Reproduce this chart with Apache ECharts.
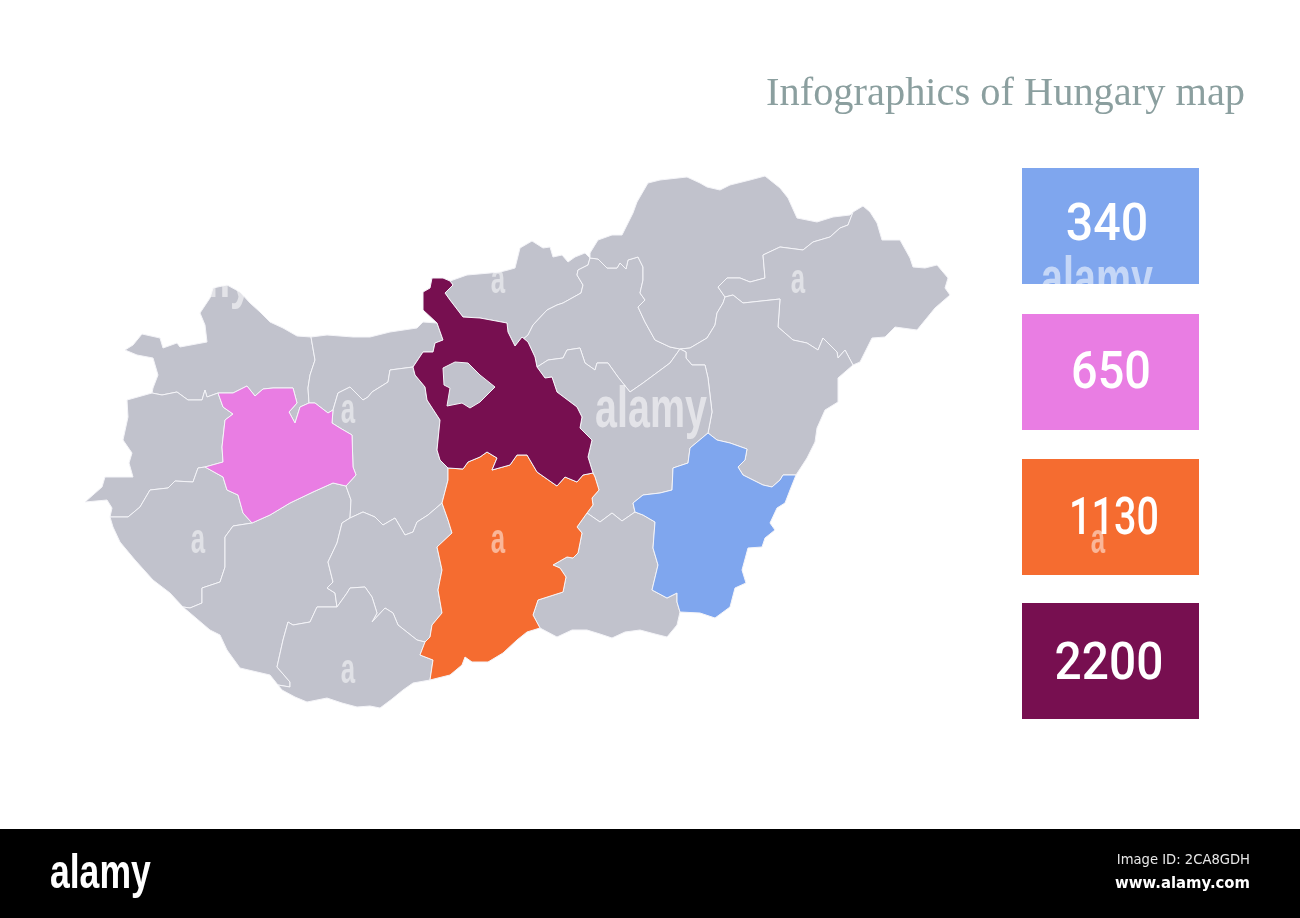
<!DOCTYPE html>
<html lang="en">
<head>
<meta charset="UTF-8">
<title>Infographics of Hungary map</title>
<script src="https://cdn.jsdelivr.net/npm/echarts@6/dist/echarts.min.js"></script>
<style>
    html, body { margin: 0; padding: 0; background: #fff; }
    #chartmain { width: 1300px; height: 918px; }
</style>
</head>
<body>
<div id="chartmain"></div>
<script>
// values and colours
var titleText = 'Infographics of Hungary map';
var highlighted = ['Bekes', 'Veszprem', 'Bacs-Kiskun', 'Pest'];
var values = [340, 650, 1130, 2200];
var colors = ['#7fa6ee', '#e97de3', '#f56c30', '#770f50'];

// county borders, each one shared by two counties
var gmsNorth = [[311,337],[297,336],[283,328],[270,322],[260,312],[250,303],[240,292],[227,285],[213,288],[210,298],[200,313],[205,325],[207,342],[180,347],[177,343],[163,348],[160,338],[142,334],[133,345],[125,350],[137,355],[153,358],[158,375],[153,388],[152,393]];
var gmsVas = [[152,393],[162,395],[177,392],[188,400],[202,400],[205,390],[207,397],[218,393]];
var gmsVes = [[218,393],[233,393],[247,386],[255,396],[263,389],[273,388],[293,388],[297,403],[289,412],[295,423],[300,407],[309,403]];
var gmsKe = [[311,337],[315,360],[310,375],[308,388],[309,403]];
var keNorth = [[311,337],[327,335],[353,337],[370,337],[390,332],[417,328],[423,322],[437,323]];
var pestKe = [[437,323],[443,340],[435,343],[433,352],[423,352],[413,367]];
var keFejer = [[413,367],[390,370],[388,382],[372,392],[368,397],[363,400],[350,387],[338,393],[333,410]];
var keVes = [[333,410],[328,413],[315,403],[309,403]];
var vesFejer = [[333,410],[332,423],[340,428],[352,435],[353,467],[356,475],[346,486]];
var vesSomogy = [[346,486],[333,483],[313,492],[290,503],[270,515],[252,523]];
var vesZala = [[252,523],[243,513],[238,495],[227,490],[223,477],[205,467]];
var vesVas = [[205,467],[223,462],[222,447],[225,420],[233,414],[223,407],[218,393]];
var vasWest = [[152,393],[127,400],[128,417],[123,440],[132,453],[129,463],[133,477],[105,477],[102,487],[85,502],[107,500],[112,508],[110,517]];
var vasZala = [[110,517],[128,517],[140,507],[150,490],[168,488],[175,481],[193,482],[198,468],[205,467]];
var zalaSouth = [[110,517],[113,527],[120,542],[135,560],[153,580],[170,593],[183,607]];
var zalaSomogy = [[183,607],[190,608],[202,603],[202,588],[220,582],[225,567],[225,537],[233,526],[252,523]];
var somogySouth = [[183,607],[210,630],[220,635],[227,650],[240,668],[270,675],[278,685]];
var somogyBaranya = [[278,685],[290,687],[290,682],[277,667],[283,640],[288,622],[293,625],[310,622],[317,607],[337,607]];
var somogyTolna = [[337,607],[335,593],[327,588],[333,582],[328,562],[337,543],[342,523],[350,518]];
var somogyFejer = [[350,518],[351,500],[346,486]];
var fejerTolna = [[350,518],[363,512],[375,517],[383,525],[395,518],[405,535],[413,532],[417,522],[428,515],[442,503]];
var fejerPest = [[413,367],[415,375],[425,387],[427,400],[440,420],[437,450],[440,460],[448,468]];
var fejerBacs = [[448,468],[448,480],[442,503]];
var tolnaBacs = [[442,503],[448,520],[452,533],[437,547],[442,570],[438,590],[442,613],[432,625],[430,637],[425,642]];
var tolnaBaranya = [[337,607],[347,593],[350,588],[365,587],[372,597],[377,613],[372,622],[385,608],[393,613],[398,625],[417,640],[425,642]];
var baranyaSouth = [[278,685],[282,690],[295,697],[307,702],[327,698],[342,703],[357,707],[370,706],[380,708],[392,699],[403,690],[413,683],[430,680]];
var baranyaBacs = [[430,680],[433,660],[420,655],[425,642]];
var bacsSouth = [[430,680],[450,675],[462,665],[465,657],[472,662],[488,662],[503,653],[517,640],[527,632],[540,628]];
var bacsCsongrad = [[540,628],[533,615],[538,600],[563,592],[566,577],[560,568],[553,565],[567,557],[573,558],[578,553],[582,533],[577,527],[587,513]];
var bacsJnsz = [[587,513],[593,505],[592,498],[599,490],[595,477],[593,473]];
var pestBacs = [[448,468],[463,469],[468,462],[480,457],[487,452],[497,458],[492,470],[510,465],[517,455],[527,455],[537,472],[557,486],[565,477],[577,482],[583,475],[593,473]];
var pestJnsz = [[593,473],[588,457],[592,440],[580,428],[582,417],[577,407],[557,392],[552,377],[545,378],[537,367]];
var pestHeves = [[537,367],[535,357],[528,342],[522,337],[515,346]];
var pestNograd = [[450,281],[453,285],[445,293],[450,300],[463,317],[480,318],[507,323],[508,332],[515,346]];
var pestNorth = [[437,323],[423,310],[423,292],[430,288],[432,278],[443,278],[450,281]];
var nogradNorth = [[450,281],[467,275],[490,273],[500,272],[508,270],[515,268],[520,248],[532,241],[543,248],[550,247],[553,257],[562,255],[568,262],[575,257],[585,253],[590,258]];
var nogradHeves = [[515,346],[528,335],[533,325],[547,310],[557,305],[563,303],[581,293],[583,285],[577,275],[578,270],[588,265],[590,258]];
var hevesBorsod = [[590,258],[598,259],[607,268],[617,268],[620,263],[626,269],[628,260],[638,257],[643,267],[643,280],[640,293],[645,300],[638,307],[645,322],[655,340],[670,347],[680,349]];
var hevesJnsz = [[537,367],[548,360],[563,358],[567,350],[580,348],[585,363],[595,370],[597,363],[608,363],[618,377],[630,392],[643,383],[670,363],[680,349]];
var borsodNorth = [[590,258],[590,253],[598,240],[612,235],[622,235],[633,213],[637,202],[648,183],[660,180],[687,177],[700,183],[707,187],[720,190],[730,185],[750,180],[765,176],[780,188],[788,198],[797,218],[817,222],[833,217],[850,215],[853,212]];
var borsodSzab = [[725,297],[718,287],[727,278],[740,278],[750,282],[765,278],[763,255],[780,247],[803,250],[813,242],[830,237],[840,228],[848,225],[853,212]];
var borsodHajdu = [[680,349],[690,348],[707,338],[715,325],[717,313],[723,303],[725,297]];
var szabOuter = [[853,212],[863,206],[870,212],[877,223],[882,240],[900,240],[910,258],[913,267],[925,268],[937,265],[948,278],[945,288],[950,295],[935,308],[917,330],[895,327],[885,337],[872,338],[860,362],[853,365]];
var szabHajdu = [[725,297],[733,295],[743,303],[780,299],[778,327],[793,340],[807,343],[818,350],[823,338],[837,352],[838,358],[845,350],[853,365]];
var hajduOuter = [[853,365],[838,378],[838,402],[825,410],[817,428],[815,442],[807,458],[796,475]];
var hajduBekes = [[708,433],[717,440],[730,443],[747,449],[745,460],[738,467],[743,475],[763,485],[772,487],[780,480],[783,475],[796,475]];
var jnszHajdu = [[680,349],[686,352],[686,358],[692,365],[705,365],[708,378],[712,412],[708,433]];
var bekesOuter = [[796,475],[790,490],[785,503],[777,508],[770,523],[775,530],[765,538],[762,547],[748,548],[742,570],[746,583],[735,588],[730,607],[715,618],[700,613],[680,612]];
var bekesCsongrad = [[680,612],[677,602],[677,593],[667,598],[652,590],[658,565],[653,548],[655,522],[643,515],[635,512]];
var bekesJnsz = [[708,433],[690,448],[688,463],[673,468],[672,490],[660,493],[643,495],[633,503],[635,512]];
var jnszCsongrad = [[587,513],[600,522],[612,513],[622,521],[635,512]];
var csongradSouth = [[540,628],[557,637],[572,630],[587,630],[600,634],[612,638],[625,632],[640,630],[655,634],[667,637],[677,625],[680,612]];
var budapest = [[443,368],[455,362],[468,363],[480,375],[495,387],[480,402],[470,408],[462,403],[447,406],[450,388],[444,385],[443,368]];

function rev(a) { return a.slice().reverse(); }
function ring() {
    var pts = [];
    for (var i = 0; i < arguments.length; i++) pts = pts.concat(arguments[i]);
    return pts;
}
function county(name, pts) {
    return { type: 'Feature', properties: { name: name }, geometry: { type: 'Polygon', coordinates: [pts] } };
}

var hungary = {
    type: 'FeatureCollection',
    features: [
        county('Gyor-Moson-Sopron', ring(gmsNorth, gmsVas, gmsVes, rev(gmsKe))),
        county('Komarom-Esztergom', ring(keNorth, pestKe, keFejer, keVes, rev(gmsKe))),
        county('Vas', ring(vasWest, vasZala, vesVas, rev(gmsVas))),
        county('Zala', ring(zalaSouth, zalaSomogy, vesZala, rev(vasZala))),
        county('Somogy', ring(somogySouth, somogyBaranya, somogyTolna, somogyFejer, vesSomogy, rev(zalaSomogy))),
        county('Fejer', ring(rev(keFejer), fejerPest, fejerBacs, rev(fejerTolna), somogyFejer, rev(vesFejer))),
        county('Tolna', ring(fejerTolna, tolnaBacs, rev(tolnaBaranya), somogyTolna)),
        county('Baranya', ring(baranyaSouth, baranyaBacs, rev(tolnaBaranya), rev(somogyBaranya))),
        county('Nograd', ring(nogradNorth, rev(nogradHeves), rev(pestNograd))),
        county('Heves', ring(pestHeves, nogradHeves, hevesBorsod, rev(hevesJnsz))),
        county('Borsod-Abauj-Zemplen', ring(borsodNorth, rev(borsodSzab), rev(borsodHajdu), rev(hevesBorsod))),
        county('Szabolcs-Szatmar-Bereg', ring(borsodSzab, szabOuter, rev(szabHajdu))),
        county('Hajdu-Bihar', ring(borsodHajdu, szabHajdu, hajduOuter, rev(hajduBekes), rev(jnszHajdu))),
        county('Jasz-Nagykun-Szolnok', ring(hevesJnsz, jnszHajdu, bekesJnsz, rev(jnszCsongrad), bacsJnsz, pestJnsz)),
        county('Csongrad', ring(csongradSouth, bekesCsongrad, rev(jnszCsongrad), rev(bacsCsongrad))),
        county('Veszprem', ring(rev(keVes), vesFejer, vesSomogy, vesZala, vesVas, gmsVes)),
        county('Bekes', ring(hajduBekes, bekesOuter, bekesCsongrad, rev(bekesJnsz))),
        county('Bacs-Kiskun', ring(bacsSouth, bacsCsongrad, bacsJnsz, rev(pestBacs), fejerBacs, tolnaBacs, rev(baranyaBacs))),
        county('Pest', ring(pestNorth, pestNograd, rev(pestHeves), rev(pestJnsz), rev(pestBacs), rev(fejerPest), rev(pestKe))),
        county('Budapest', budapest)
    ]
};
echarts.registerMap('hungary', hungary);

// layout of the value boxes
var boxTops = [168, 314, 459, 603];
var boxLabelX = [1107, 1111, 1114, 1109];
var boxLabelY = [227, 375, 521, 666];
var boxLabelScale = [0.93, 0.9, 0.76, 0.92];

// watermark positions
var bigMarks = [[651, 440], [1097, 310], [196, 310]];
var smallMarks = [[198, 563], [348, 433], [348, 693], [498, 563], [498, 303], [798, 303], [1098, 563]];

var graphics = [
    { type: 'rect', z: 1, shape: { x: 0, y: 829, width: 1300, height: 89 }, style: { fill: '#000' } },
    { type: 'text', z: 10, x: 1245, y: 94, style: { text: titleText, fill: '#8b9f9f', font: '40.4px "Liberation Serif"', textAlign: 'right', textVerticalAlign: 'middle' } },
    { type: 'text', z: 10, x: 50, y: 899, scaleX: 0.74, style: { text: 'alamy', fill: '#fff', font: 'bold 48px "Liberation Sans"', textAlign: 'left', textVerticalAlign: 'bottom' } },
    { type: 'text', z: 10, x: 1250, y: 860, scaleX: 0.94, style: { text: 'Image ID: 2CA8GDH', fill: '#e8e8e8', font: '14px "DejaVu Sans"', textAlign: 'right', textVerticalAlign: 'middle' } },
    { type: 'text', z: 10, x: 1250, y: 884, scaleX: 0.99, style: { text: 'www.alamy.com', fill: '#fff', font: 'bold 15px "DejaVu Sans"', textAlign: 'right', textVerticalAlign: 'middle' } }
];
values.forEach(function (v, i) {
    graphics.push({ type: 'rect', z: 10, shape: { x: 1022, y: boxTops[i], width: 177, height: 116 }, style: { fill: colors[i] } });
    graphics.push({ type: 'text', z: 11, x: boxLabelX[i], y: boxLabelY[i], scaleX: boxLabelScale[i], style: { text: String(v), fill: '#fff', font: '500 52px Roboto', textAlign: 'center', textVerticalAlign: 'middle' } });
});
bigMarks.forEach(function (p) {
    graphics.push({ type: 'text', z: 12, x: p[0], y: p[1], scaleX: 0.68, silent: true, style: { text: 'alamy', fill: 'rgba(255,255,255,0.55)', font: 'bold 58px "Liberation Sans"', textAlign: 'center', textVerticalAlign: 'bottom' } });
});
smallMarks.forEach(function (p) {
    graphics.push({ type: 'text', z: 12, x: p[0], y: p[1], scaleX: 0.6, silent: true, style: { text: 'a', fill: 'rgba(255,255,255,0.5)', font: 'bold 43px "Liberation Sans"', textAlign: 'center', textVerticalAlign: 'bottom' } });
});

var option = {
    animation: false,
    backgroundColor: '#fff',
    graphic: graphics,
    series: [{
        type: 'map',
        map: 'hungary',
        silent: true,
        roam: false,
        // coordinates are already picture pixels
        projection: {
            project: function (p) { return p; },
            unproject: function (p) { return p; }
        },
        boundingCoords: [[0, 0], [1300, 918]],
        left: 0,
        top: 0,
        width: 1300,
        height: 918,
        label: { show: false },
        itemStyle: { areaColor: '#c1c2cc', borderColor: '#f4f4f8', borderWidth: 1 },
        data: highlighted.map(function (name, i) {
            return { name: name, value: values[i], itemStyle: { areaColor: colors[i] } };
        })
    }]
};

var myChart = echarts.init(document.getElementById('chartmain'));
myChart.setOption(option);
</script>
</body>
</html>
